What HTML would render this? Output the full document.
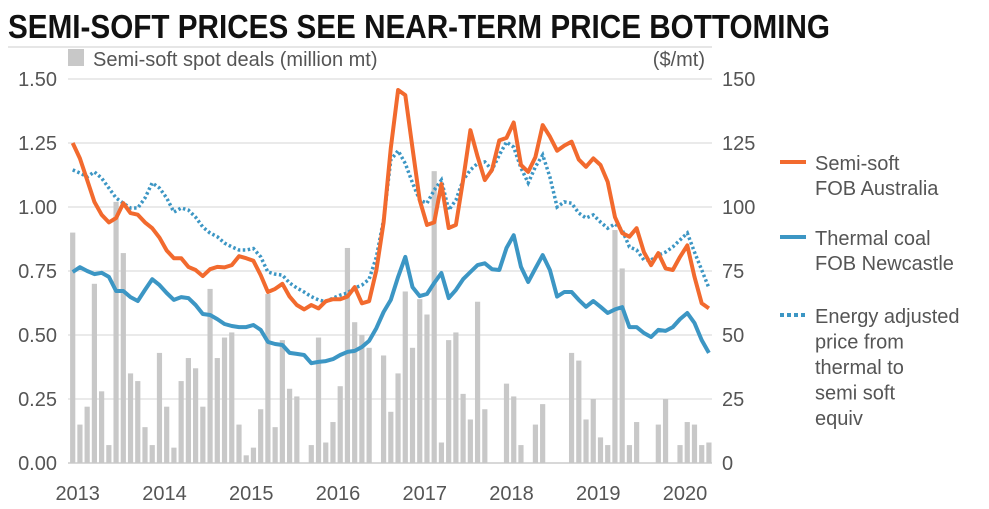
<!DOCTYPE html>
<html><head><meta charset="utf-8"><style>
html,body{margin:0;padding:0;background:#fff;}
svg{display:block;font-family:"Liberation Sans",sans-serif;}
</style></head><body>
<svg id="chart" width="989" height="509" viewBox="0 0 989 509">
<text x="8" y="38" font-size="33" font-weight="bold" fill="#111" textLength="822" lengthAdjust="spacingAndGlyphs">SEMI-SOFT PRICES SEE NEAR-TERM PRICE BOTTOMING</text>
<line x1="8" y1="47" x2="712" y2="47" stroke="#ddd" stroke-width="1.5"/>
<rect x="68" y="49" width="16" height="17" fill="#c8c8c8"/>
<text x="93" y="66" font-size="20" fill="#555">Semi-soft spot deals (million mt)</text>
<text x="705" y="66" font-size="20" fill="#555" text-anchor="end">($/mt)</text>
<g id="grid"></g><g id="bars"></g><g id="lines"></g><g id="axes"></g>
<g>
<line x1="780" y1="162" x2="806" y2="162" stroke="#f26a2e" stroke-width="4"/>
<text x="815" y="170" font-size="20" fill="#555"><tspan x="815">Semi-soft</tspan><tspan x="815" dy="25">FOB Australia</tspan></text>
<line x1="780" y1="237" x2="806" y2="237" stroke="#3c96c4" stroke-width="4"/>
<text x="815" y="245" font-size="20" fill="#555"><tspan x="815">Thermal coal</tspan><tspan x="815" dy="25">FOB Newcastle</tspan></text>
<line x1="780" y1="315" x2="806" y2="315" stroke="#3c96c4" stroke-width="4" stroke-dasharray="4,3"/>
<text x="815" y="323" font-size="20" fill="#555"><tspan x="815">Energy adjusted</tspan><tspan x="815" dy="25.5">price from</tspan><tspan x="815" dy="25.5">thermal to</tspan><tspan x="815" dy="25.5">semi soft</tspan><tspan x="815" dy="25.5">equiv</tspan></text>
</g>
</svg>
<script>
const years = ["2013","2014","2015","2016","2017","2018","2019","2020"];
const leftTicks = ["0.00","0.25","0.50","0.75","1.00","1.25","1.50"];
const rightTicks = ["0","25","50","75","100","125","150"];
const spotDeals = [0.90,0.15,0.22,0.70,0.28,0.07,1.02,0.82,0.35,0.32,0.14,0.07,0.43,0.22,0.06,0.32,0.41,0.37,0.22,0.68,0.41,0.49,0.51,0.15,0.03,0.06,0.21,0.66,0.14,0.48,0.29,0.26,0,0.07,0.49,0.08,0.16,0.30,0.84,0.55,0.50,0.45,0,0.42,0.20,0.35,0.67,0.45,0.64,0.58,1.14,0.08,0.48,0.51,0.27,0.17,0.63,0.21,0,0,0.31,0.26,0.07,0,0.15,0.23,0,0,0,0.43,0.40,0.17,0.25,0.10,0.07,0.91,0.76,0.07,0.16,0,0,0.15,0.25,0,0.07,0.16,0.15,0.07,0.08];
const semiSoft = [125,119,110.5,102,97,94,95.7,101.5,97.6,97,94,91.7,88,83,80,80,76.6,75.4,73,75.7,76.6,76.4,77.3,80.8,80,79,73.4,66.8,68,70,65,61.7,60,61.7,60.4,63.2,64,64,65,68.7,62.4,63.2,75.4,94,123,145.7,143.7,123,102.7,93,94,109,91.8,93,110.5,130,119.7,110.5,114.5,126,127,133,116.4,113.7,119.5,132,127.5,122,124,125.5,118.5,115.7,119,116.4,109.8,96,89.8,88.4,91.7,82.4,77.3,82,76,75.4,80.5,85,72.7,62.4,60.4];
const thermal = [74.6,76.5,75,73.8,74.3,72.7,67.2,67.2,64.8,63.3,67.6,71.8,69.5,66.4,63.7,64.8,64.4,61.7,58.2,57.8,56.2,54.3,53.5,53.1,53.1,53.9,52,47.3,46.5,46.1,43,42.6,42.2,39,39.5,39.8,40.6,42.2,43.4,43.8,45.3,47.7,52.7,59,63.7,72.7,80.5,68.7,65.2,66,70.3,74.2,64.4,67.6,71.8,74.6,77.3,78,75.7,75.4,84,89,76.6,70.7,76,81.2,75.4,65,66.8,66.8,63.7,61,63.3,61,58.6,60,60.9,53.1,53.1,50.8,49.2,52,51.6,53.1,56.2,58.6,54.7,48,43];
const energyAdj = [114.5,113.3,111.8,113.7,111.3,107.4,103.5,101.5,99.6,99.6,103.5,109.4,107.4,103.5,98,99.6,98.8,96,92.2,89.8,88.4,85.9,84.4,83.2,83.2,83.8,80.5,74.6,73.8,73.4,70.3,68.4,66.8,65,63.7,63,64.4,65.6,66.4,68.4,69.5,71.8,80.5,95,118.4,122,117,109.4,102.7,101.5,106.6,110.5,98.8,102.7,110.5,114.5,117,117.6,114.5,120.3,125.4,123.4,115.2,109.4,115.7,120.3,111.7,100,102,101.5,97.6,95.7,96.9,94.1,91.7,93.4,91,84.4,83.2,79.3,79.3,81.2,82.4,84.4,87.1,89.8,82.4,75.4,68.4];

const NS="http://www.w3.org/2000/svg";
const x0=72.7, dx=7.23, yBase=463, pxPerDollar=2.56;
function xScale(i){return x0+dx*i;}
function yLeft(v){return yBase - v*256;}
function yRight(v){return yBase - v*pxPerDollar;}
function mk(tag,attrs,parent){const e=document.createElementNS(NS,tag);for(const k in attrs)e.setAttribute(k,attrs[k]);parent.appendChild(e);return e;}
const grid=document.getElementById('grid'), bars=document.getElementById('bars'), lines=document.getElementById('lines'), axes=document.getElementById('axes');
leftTicks.forEach((t,i)=>{
  const y=yLeft(parseFloat(t));
  const g=mk('line',{x1:68,x2:712,y1:y,y2:y,stroke:i===0?'#ccc':'#e3e3e3','stroke-width':1.5},grid);
  
  
  const lt=mk('text',{x:57,y:y+7,'font-size':20,fill:'#555','text-anchor':'end'},axes);
  lt.textContent=t;
  
  
});
rightTicks.forEach((t)=>{
  const y=yRight(parseFloat(t));
  const rt=mk('text',{x:722,y:y+7,'font-size':20,fill:'#555'},axes);
  rt.textContent=t;
  
  
});
years.forEach((t,i)=>{
  const xt=mk('text',{x:xScale(i*12)+5,y:500,'font-size':20,fill:'#555','text-anchor':'middle'},axes);
  xt.textContent=t;
  
  
});
spotDeals.forEach((v,i)=>{
  if(v<=0)return;
  const r=mk('rect',{x:xScale(i)-2.6,y:yLeft(v),width:5.2,height:v*256,fill:'#c8c8c8'},bars);
  
  
});
function path(arr){return arr.map((v,i)=>(i?'L':'M')+xScale(i).toFixed(1)+','+yRight(v).toFixed(1)).join('');}
const pe=mk('path',{d:path(energyAdj),fill:'none',stroke:'#3c96c4','stroke-width':3.5,'stroke-dasharray':'2.5,2.5'},lines);


const pt=mk('path',{d:path(thermal),fill:'none',stroke:'#3c96c4','stroke-width':4,'stroke-linejoin':'round'},lines);


const ps=mk('path',{d:path(semiSoft),fill:'none',stroke:'#f26a2e','stroke-width':4,'stroke-linejoin':'round'},lines);


</script>
</body></html>
